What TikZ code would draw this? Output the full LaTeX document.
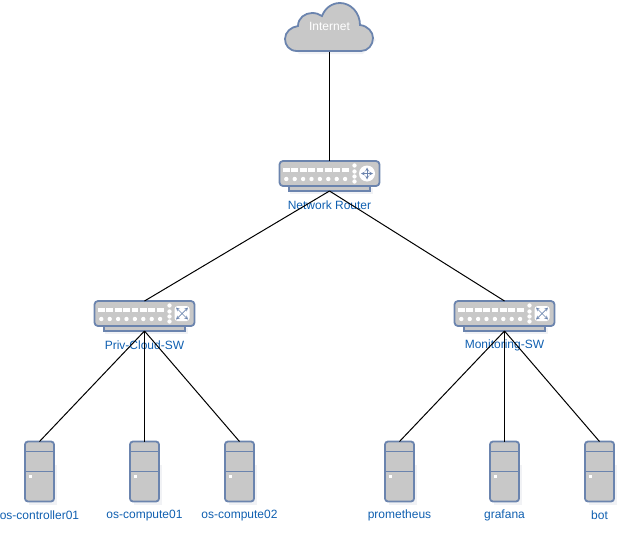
\documentclass[tikz,border=0pt]{standalone}
\usepackage{fontspec}
\setmainfont{Liberation Sans}
\usetikzlibrary{calc, positioning}

\definecolor{devfill}{HTML}{C8C8C8}
\definecolor{devline}{HTML}{6B84AE}
\definecolor{devtext}{HTML}{0F5FB0}
\definecolor{devshade}{HTML}{F1F2F5}

\tikzset{
  devlabel/.style={inner sep=0pt, text=devtext, font=\fontsize{12}{14}\selectfont},
  netbox/.style={draw=devline, fill=devfill, line width=1.8pt, rounded corners=3.5pt,
    minimum width=100pt, minimum height=25pt, inner sep=0pt, outer sep=0pt},
  netbase/.style={draw=devline, fill=devfill, line width=1.3pt,
    minimum width=81pt, minimum height=5pt, inner sep=0pt, outer sep=0pt},
  srvbox/.style={draw=devline, fill=devfill, line width=1.8pt, rounded corners=3pt,
    minimum width=29pt, minimum height=60pt, inner sep=0pt, outer sep=0pt},
  shade/.style={fill=devshade, draw=none},
  link/.style={black, line width=1pt}
}

\newcommand{\portrows}[1]{
  \foreach \x in {0,...,7} {
    \fill[white] ($(#1.center)+(-46.5+8.4*\x,-5.5)$) rectangle ++(6.8,3.8);
    \fill[white] ($(#1.center)+(-43.2+8.4*\x,5.5)$) circle (2.2pt);
  }
  \foreach \y in {-8,-2,3,8} {
    \fill[white] ($(#1.center)+(25,\y)$) circle (2.2pt);
  }
}

\begin{document}
\begin{tikzpicture}[x=1pt, y=-1pt, >=latex]
  \useasboundingbox (0,0) rectangle (627,533);

  \fill[shade] (299,54) -- (363,54) -- (376,40) -- (362,27) -- (287,40) -- cycle;
  \draw[draw=devline, fill=devfill, line width=1.8pt]
    (297,51) .. controls (289,51) and (285,45) .. (285,39)
    .. controls (285,32) and (291,27) .. (298,26)
    .. controls (298,18) and (305,13) .. (312,13)
    .. controls (316,13) and (319,14) .. (322,16)
    .. controls (325,8) and (332,3) .. (340,3)
    .. controls (351,3) and (360,13) .. (360,25)
    .. controls (368,26) and (373,32) .. (373,38)
    .. controls (373,45) and (368,51) .. (361,51) -- cycle;
  \node[devlabel, minimum width=88pt, minimum height=48pt] (internet) at (329.5,27.5) {};
  \node[devlabel, text=white] (internet-text) at (329.5,26) {Internet};

  \foreach \name/\x/\y/\txt in {router/329.5/173.5/Network Router,
      privsw/144.5/313.5/Priv-Cloud-SW, monsw/504.5/313.5/Monitoring-SW} {
    \fill[shade] (\x-40,\y+14) rectangle (\x+43,\y+20);
    \node[netbox] (\name) at (\x,\y) {};
    \node[netbase, below=0pt of \name] (\name-base) {};
    \node[devlabel] (\name-label) at (\x,\y+31.5) {\txt};
    \portrows{\name}
    \coordinate (\name-icon) at (\x+37.5,\y);
  }

  \fill[white] (router-icon) circle (8pt);
  \draw[<->, devline, line width=0.7pt, >=stealth] ($(router-icon)+(-6,0)$) -- ++(12,0);
  \draw[<->, devline, line width=0.7pt, >=stealth] ($(router-icon)+(0,-6)$) -- ++(0,12);
  \foreach \name in {privsw, monsw} {
    \fill[white, rounded corners=3pt] ($(\name-icon)+(-7.5,-7.5)$) rectangle ++(15,15);
    \draw[<->, devline, line width=0.7pt, >=stealth] ($(\name-icon)+(-6,-6)$) -- ++(12,12);
    \draw[<->, devline, line width=0.7pt, >=stealth] ($(\name-icon)+(6,-6)$) -- ++(-12,12);
  }

  \foreach \name/\x/\txt in {ctrl/39.5/os-controller01, compa/144.5/os-compute01,
      compb/239.5/os-compute02, prom/399.5/prometheus, graf/504.5/grafana, bot/599.5/bot} {
    \fill[shade] (\x-11,465) rectangle (\x+17,505);
    \node[srvbox] (\name) at (\x,471.5) {};
    \draw[devline, line width=1.5pt] ($(\name.north west)+(0,10)$) -- ($(\name.north east)+(0,10)$);
    \draw[devline, line width=1.5pt] ($(\name.north west)+(0,30)$) -- ($(\name.north east)+(0,30)$);
    \fill[white] ($(\name.north west)+(3.5,33)$) rectangle ++(3.5,3.5);
    \node[devlabel] (\name-label) at (\x,515.5) {\txt};
  }

  \draw[link] (internet.south) -- (router.north);
  \draw[link] (router-base.south) -- (privsw.north);
  \draw[link] (router-base.south) -- (monsw.north);
  \foreach \dev in {ctrl, compa, compb} {
    \draw[link] (privsw-base.south) -- (\dev.north);
  }
  \foreach \dev in {prom, graf, bot} {
    \draw[link] (monsw-base.south) -- (\dev.north);
  }
\end{tikzpicture}
\end{document}
